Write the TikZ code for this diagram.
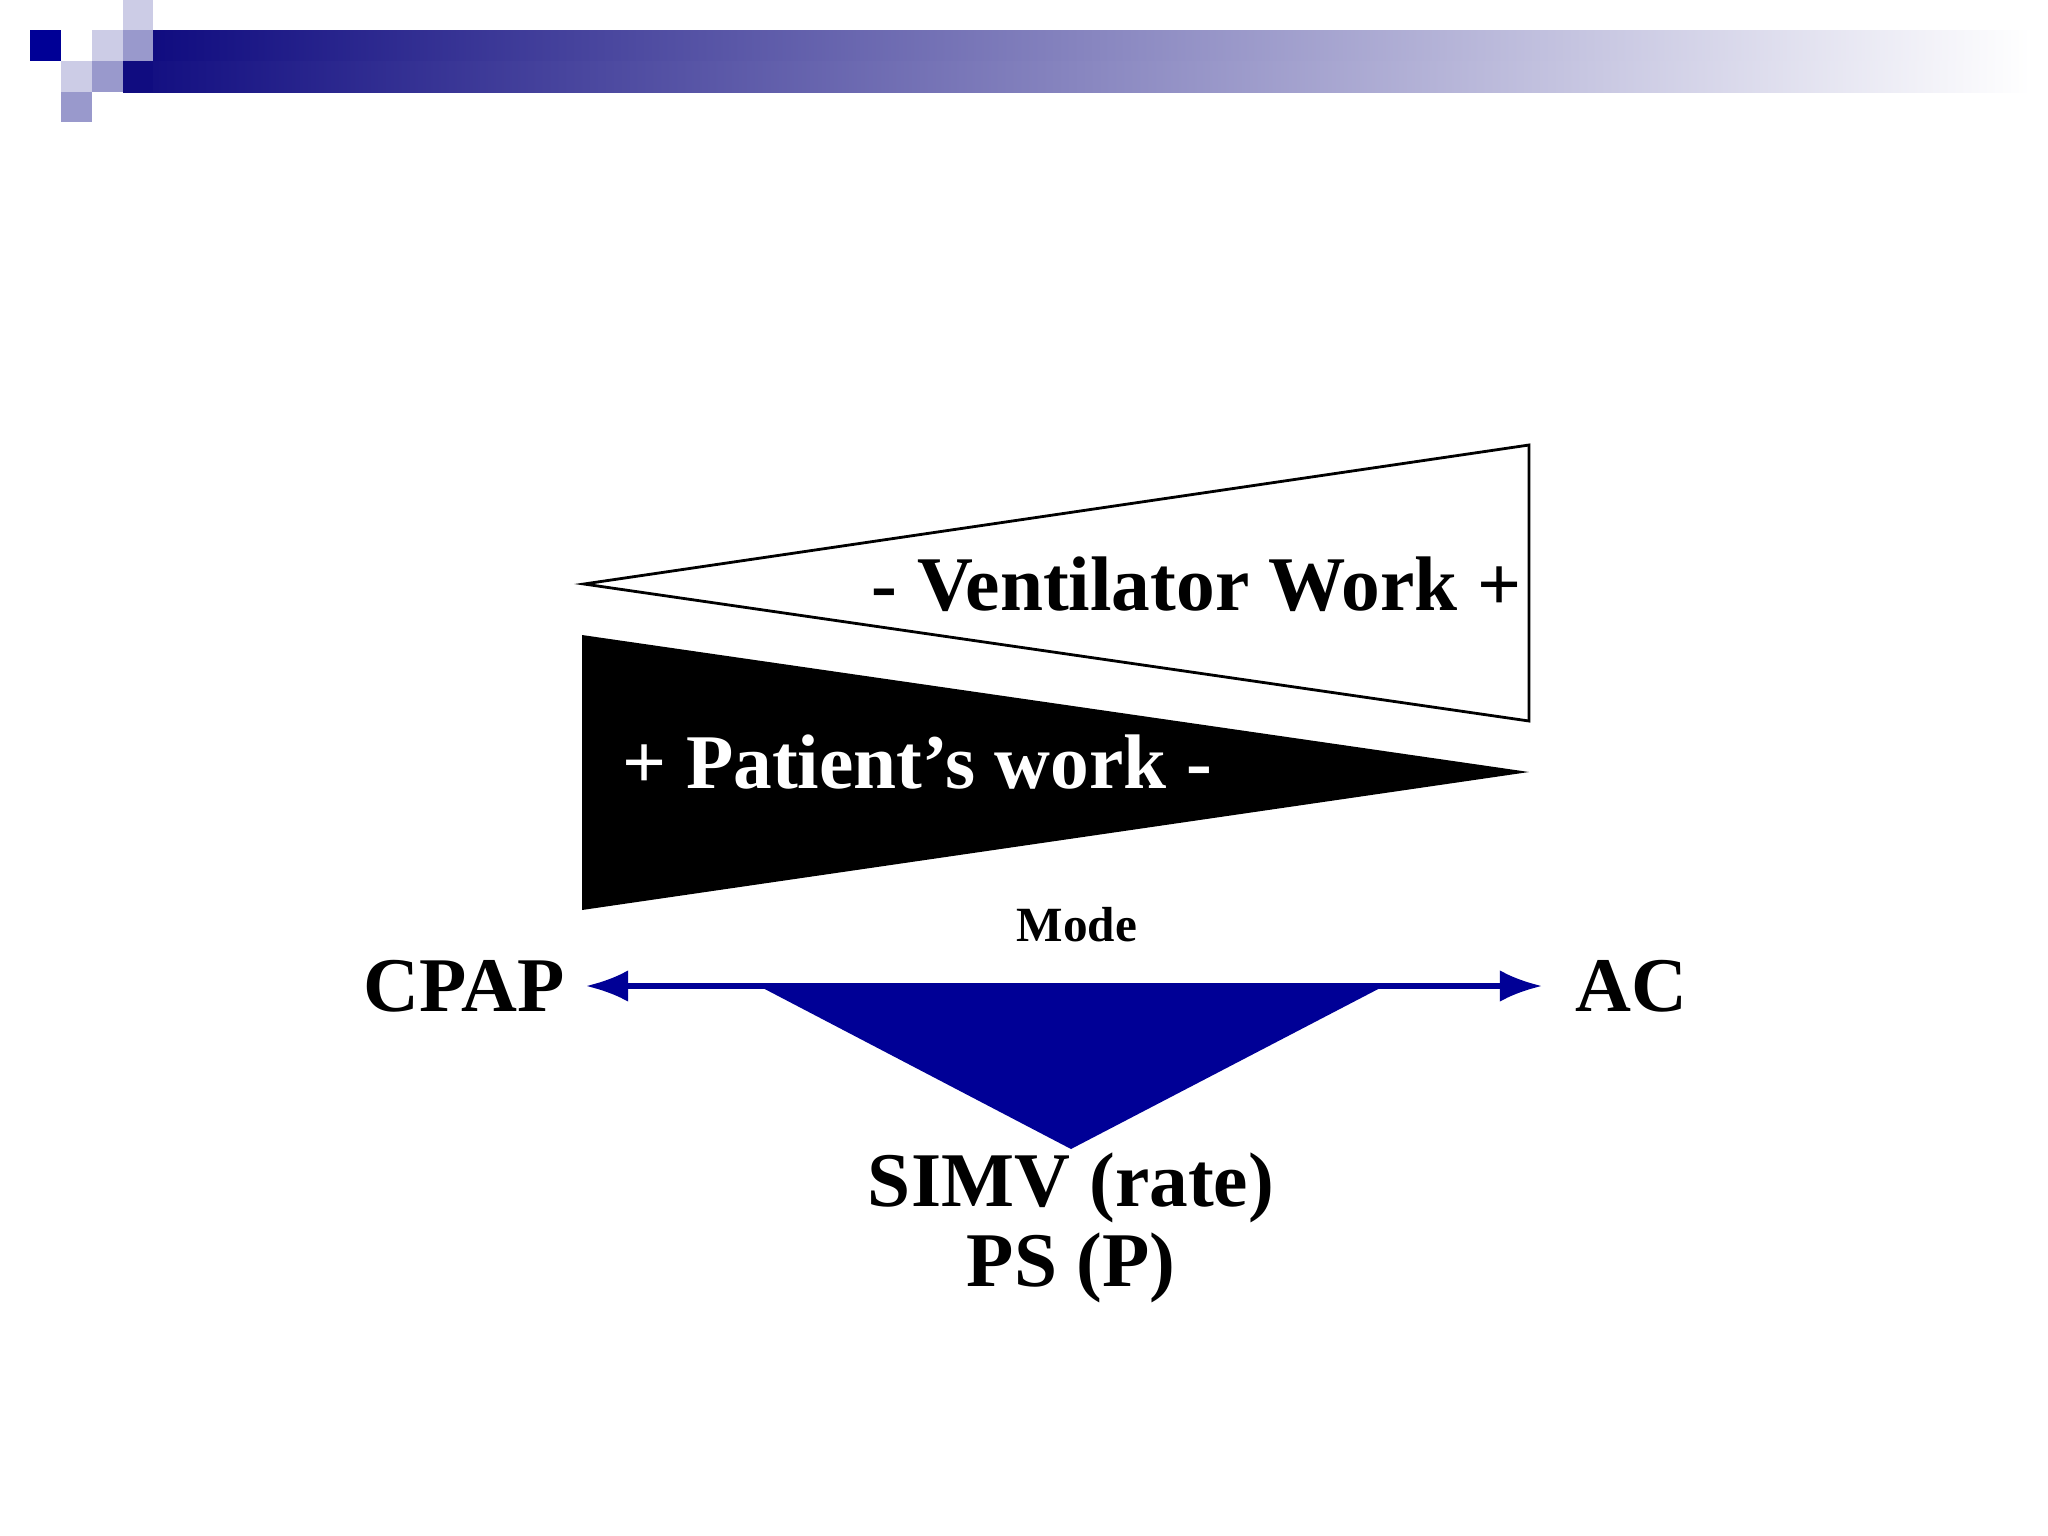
\documentclass[tikz,border=0pt]{standalone}
\usepackage{fontspec}
\setmainfont{Liberation Serif}
\usetikzlibrary{arrows.meta}
\definecolor{navy}{RGB}{0,0,150}
\definecolor{bardark}{RGB}{16,12,128}
\definecolor{sqlight}{RGB}{204,204,230}
\definecolor{sqmed}{RGB}{153,153,204}
\tikzset{
  big/.style={font=\bfseries\fontsize{22}{26}\selectfont, inner sep=0pt},
  small/.style={font=\bfseries\fontsize{14}{17}\selectfont, inner sep=0pt}
}
\begin{document}
\begin{tikzpicture}[x=0.01cm,y=-0.01cm]
\useasboundingbox (0,0) rectangle (2048,1536);
\fill[white] (0,0) rectangle (2048,1536);
% header
\shade[left color=bardark, right color=white] (153,30) rectangle (2030,61);
\shade[left color=bardark, right color=white] (123,61) rectangle (2030,92);
\fill[bardark] (123,61) rectangle (153,92);
\fill[navy] (30,30) rectangle (61,61);
\fill[sqlight] (123,0) rectangle (153,30);
\fill[sqlight] (92,30) rectangle (123,61);
\fill[sqmed] (123,30) rectangle (153,61);
\fill[sqlight] (61,61) rectangle (92,92);
\fill[sqmed] (92,61) rectangle (123,92);
\fill[sqmed] (61,92) rectangle (92,122);
% triangles
\draw[line width=0.8pt] (584,584) -- (1529,445) -- (1529,721) -- cycle;
\fill[black] (582,635) -- (1529,772) -- (582,910) -- cycle;
\node[big, anchor=east] (vw) at (1522,584) {- Ventilator Work +};
\node[big, anchor=west, white] (pw) at (622,762) {+ Patient’s work -};
\node[small] (mode) at (1077,925) {Mode};
% mode axis
\coordinate (l) at (586,986);
\coordinate (r) at (1542,986);
\draw[navy, line width=1.5pt, {Latex[length=12pt,width=9pt]}-{Latex[length=12pt,width=9pt]}] (l) -- (r);
\coordinate (t1) at (759,986);
\coordinate (t2) at (1384,986);
\coordinate (t3) at (1071,1149);
\fill[navy] (t1) -- (t2) -- (t3) -- cycle;
\node[big] (cpap) at (464,986) {CPAP};
\node[big] (ac) at (1631,986) {AC};
\node[big] (simv) at (1071,1188) {SIMV (rate)};
\node[big] (ps) at (1071,1268) {PS (P)};
\end{tikzpicture}
\end{document}
